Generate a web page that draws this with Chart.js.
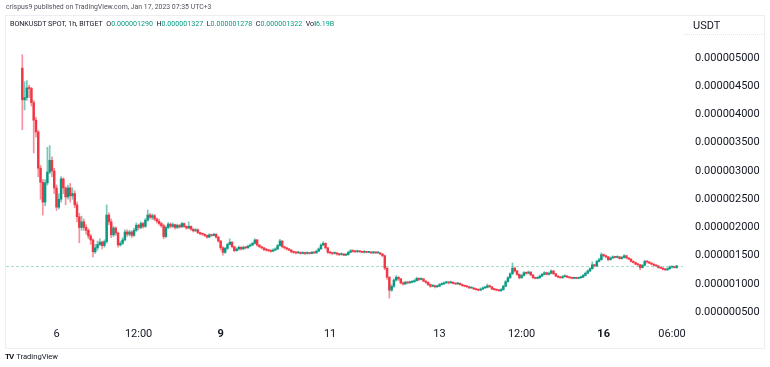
<!DOCTYPE html>
<html>
<head>
<meta charset="utf-8">
<title>BONKUSDT 1h</title>
<script src="https://cdn.jsdelivr.net/npm/chart.js"></script>
<style>
  html, body { margin: 0; padding: 0; background: #fff; }
  #wrap { position: relative; width: 770px; height: 367px; font-family: Roboto, "Liberation Sans", sans-serif; color: #131722; }
  #frame { position: absolute; left: 5px; top: 15px; width: 760px; height: 334px; border: 1px solid #eceef2; box-sizing: border-box; }
  #cv { position: absolute; left: 0; top: 0; }
  .txt { position: absolute; white-space: nowrap; line-height: 1; }
  #pub { left: 6px; top: 4px; font-size: 6.9px; color: #50535e; }
  #sym { left: 10px; top: 20px; font-size: 7.1px; color: #131722; }
  #sym .v { color: #089981; }
  #unit { left: 693px; top: 20px; font-size: 11px; }
  #unitline { position: absolute; left: 684px; top: 34px; width: 80px; border-top: 1px dotted #e3e6ec; }
  #logo { left: 5px; top: 353px; font-size: 7.6px; color: #131722; }
  #logo b { font-size: 8px; letter-spacing: -1px; margin-right: 3px; }
</style>
</head>
<body>
<div id="wrap">
  <div id="frame"></div>
  <canvas id="cv" width="770" height="367"></canvas>
  <div class="txt" id="pub">crispus9 published on TradingView.com, Jan 17, 2023 07:35 UTC+3</div>
  <div class="txt" id="sym">BONKUSDT SPOT, 1h, BITGET&nbsp;&nbsp;O<span class="v">0.000001290</span>&nbsp;&nbsp;H<span class="v">0.000001327</span>&nbsp;&nbsp;L<span class="v">0.000001278</span>&nbsp;&nbsp;C<span class="v">0.000001322</span>&nbsp;&nbsp;Vol<span class="v">6.19B</span></div>
  <div class="txt" id="unit">USDT</div>
  <div id="unitline"></div>
  <div class="txt" id="logo"><b>TV</b>TradingView</div>
</div>
<script>
// precios en 1e-9 USDT, velas de 1h (la apertura de cada vela = cierre anterior)
const firstOpen = 4820;
const closes = [
  4260, 4300, 4470, 4460, 4210, 3900, 3690, 3050, 2800, 2450,
  2790, 2980, 3190, 3000, 2700, 2360, 2500, 2860, 2700, 2540,
  2700, 2560, 2600, 2400, 2190, 2000, 2100, 2000, 1950, 1850,
  1780, 1570, 1640, 1700, 1740, 1680, 1750, 2220, 2100, 1870,
  1990, 1900, 1690, 1720, 1780, 1920, 1880, 1920, 1860, 1950,
  2040, 2000, 2070, 2020, 2130, 2220, 2180, 2210, 2150, 2110,
  2070, 2030, 1840, 2000, 2060, 2020, 2050, 2000, 2040, 2010,
  2070, 2020, 1990, 2020, 1970, 1940, 1960, 1910, 1890, 1880,
  1860, 1830, 1870, 1860, 1880, 1830, 1760, 1640, 1560, 1630,
  1700, 1740, 1660, 1590, 1620, 1650, 1620, 1650, 1640, 1670,
  1690, 1720, 1780, 1690, 1660, 1640, 1610, 1600, 1590, 1580,
  1600, 1620, 1680, 1760, 1660, 1640, 1620, 1600, 1570, 1560,
  1550, 1560, 1540, 1550, 1540, 1550, 1540, 1560, 1550, 1580,
  1620, 1690, 1720, 1640, 1560, 1550, 1540, 1550, 1530, 1520,
  1530, 1510, 1520, 1560, 1590, 1580, 1570, 1580, 1570,
  1560, 1570, 1560, 1560, 1550, 1560, 1550, 1550, 1530, 1500,
  1280, 1120, 890, 960, 1070, 1120, 1090, 1020, 1000, 1030,
  1020, 1030, 1040, 1060, 1100, 1080, 1090, 1050, 1030, 990,
  960, 970, 950, 960, 990, 1000, 1020, 1030, 1020, 1030,
  1010, 1000, 1010, 990, 970, 960, 950, 930, 930, 910,
  900, 890, 910, 930, 940, 970, 950, 910, 900, 890,
  880, 900, 960, 1040, 1110, 1180, 1280, 1230, 1170, 1110,
  1150, 1200, 1190, 1210, 1160, 1110, 1100, 1110, 1140, 1170,
  1200, 1170, 1190, 1230, 1180, 1140, 1120, 1110, 1130, 1140,
  1120, 1110, 1100, 1110, 1100, 1110, 1120, 1150, 1190, 1230,
  1270, 1340, 1320, 1400, 1430, 1520, 1500, 1480, 1430, 1460,
  1480, 1470, 1480, 1450, 1470, 1500, 1460, 1440, 1400, 1380,
  1350, 1340, 1290, 1330, 1400, 1390, 1370, 1350, 1330, 1320,
  1290, 1280, 1260, 1250, 1270, 1300, 1300, 1290, 1322
];
const highs = [
  5060, 4580, 4600, 4520, 4480, 4250, 3950, 3720, 3100, 2850,
  2850, 3420, 3450, 3250, 3050, 2750, 2600, 2900, 2880, 2720,
  2750, 2780, 2700, 2650, 2450, 2250, 2200, 2150, 2050, 1980,
  1880, 1800, 1700, 1760, 1800, 1760, 1780, 2400, 2260, 2150,
  2020, 2010, 1920, 1760, 1820, 1960, 1960, 1950, 1940, 1990,
  2080, 2060, 2100, 2090, 2160, 2310, 2250, 2240, 2230, 2170,
  2150, 2090, 2060, 2030, 2090, 2080, 2080, 2060, 2060, 2050,
  2090, 2080, 2030, 2100, 2030, 1980, 1980, 1970, 1920, 1900,
  1890, 1870, 1890, 1880, 1900, 1890, 1840, 1770, 1660, 1650,
  1720, 1800, 1750, 1670, 1640, 1670, 1660, 1670, 1660, 1690,
  1710, 1740, 1800, 1790, 1700, 1670, 1650, 1630, 1610, 1600,
  1620, 1640, 1700, 1790, 1770, 1670, 1650, 1630, 1610, 1580,
  1570, 1580, 1570, 1570, 1560, 1570, 1560, 1580, 1570, 1600,
  1640, 1710, 1750, 1730, 1650, 1570, 1560, 1570, 1560, 1540,
  1550, 1540, 1540, 1580, 1610, 1600, 1590, 1600, 1590,
  1580, 1590, 1580, 1580, 1570, 1580, 1570, 1570, 1560, 1540,
  1510, 1290, 1130, 990, 1090, 1150, 1130, 1100, 1040, 1050,
  1040, 1050, 1060, 1080, 1120, 1110, 1110, 1100, 1060, 1040,
  1000, 990, 980, 980, 1010, 1020, 1040, 1050, 1040, 1050,
  1040, 1020, 1030, 1020, 1000, 980, 970, 960, 940, 940,
  920, 910, 930, 950, 960, 1000, 980, 960, 920, 910,
  900, 920, 980, 1060, 1130, 1200, 1370, 1300, 1240, 1180,
  1170, 1220, 1210, 1230, 1220, 1170, 1120, 1130, 1160, 1190,
  1220, 1210, 1210, 1250, 1240, 1190, 1150, 1130, 1150, 1160,
  1150, 1130, 1120, 1120, 1120, 1120, 1140, 1170, 1210, 1250,
  1290, 1390, 1350, 1420, 1460, 1550, 1530, 1510, 1490, 1480,
  1500, 1490, 1500, 1490, 1490, 1520, 1510, 1470, 1450, 1410,
  1390, 1360, 1350, 1350, 1420, 1410, 1400, 1380, 1360, 1340,
  1330, 1300, 1290, 1270, 1290, 1320, 1310, 1310, 1327
];
const lows = [
  3730, 4080, 4250, 4300, 4150, 3320, 3600, 2900, 2500, 2220,
  2380, 2750, 2950, 2900, 2600, 2300, 2330, 2450, 2600, 2400,
  2500, 2450, 2500, 2350, 2100, 1730, 1950, 1950, 1880, 1800,
  1700, 1480, 1540, 1600, 1680, 1620, 1650, 1720, 2050, 1820,
  1840, 1860, 1650, 1670, 1700, 1760, 1840, 1850, 1820, 1840,
  1930, 1960, 1980, 1990, 2000, 2110, 2150, 2140, 2120, 2080,
  2040, 2000, 1800, 1820, 1980, 1990, 2000, 1970, 1980, 1990,
  2000, 2000, 1970, 1980, 1950, 1920, 1930, 1890, 1870, 1860,
  1840, 1810, 1820, 1840, 1850, 1810, 1740, 1600, 1510, 1540,
  1610, 1690, 1640, 1570, 1580, 1600, 1600, 1610, 1620, 1630,
  1660, 1680, 1710, 1670, 1640, 1620, 1590, 1580, 1570, 1560,
  1570, 1590, 1610, 1670, 1640, 1620, 1600, 1590, 1550, 1540,
  1530, 1540, 1530, 1530, 1520, 1530, 1530, 1530, 1540, 1540,
  1570, 1610, 1680, 1620, 1540, 1530, 1520, 1530, 1510, 1500,
  1510, 1500, 1500, 1510, 1550, 1560, 1560, 1560, 1560,
  1550, 1550, 1550, 1550, 1540, 1540, 1540, 1540, 1520, 1480,
  1250, 1080, 750, 870, 940, 1050, 1060, 1000, 980, 990,
  1000, 1010, 1020, 1030, 1050, 1060, 1070, 1040, 1010, 970,
  940, 950, 930, 940, 950, 980, 990, 1010, 1000, 1010,
  1000, 990, 990, 980, 960, 950, 940, 920, 920, 900,
  890, 880, 880, 900, 920, 930, 940, 900, 890, 880,
  870, 870, 890, 950, 1030, 1100, 1170, 1210, 1150, 1090,
  1100, 1140, 1170, 1180, 1150, 1100, 1090, 1090, 1100, 1130,
  1160, 1160, 1160, 1180, 1170, 1130, 1110, 1100, 1100, 1120,
  1110, 1100, 1090, 1090, 1090, 1090, 1100, 1110, 1140, 1180,
  1220, 1260, 1300, 1310, 1390, 1420, 1480, 1460, 1410, 1420,
  1450, 1460, 1460, 1440, 1440, 1460, 1450, 1430, 1390, 1370,
  1340, 1320, 1250, 1280, 1320, 1370, 1360, 1340, 1320, 1310,
  1280, 1270, 1250, 1240, 1240, 1260, 1280, 1280, 1278
];

// eje de tiempo: indice de vela y texto
const tickIdx = [15, 51, 87, 135, 183, 219, 255, 285];
const tickText = ['6', '12:00', '9', '11', '13', '12:00', '16', '06:00'];
const tickBold = ['9', '16'];
const priceTicks = [500, 1000, 1500, 2000, 2500, 3000, 3500, 4000, 4500, 5000];

const UP = '#089981';
const DOWN = '#F23645';

const opens = [firstOpen].concat(closes.slice(0, -1));
const lastClose = closes[closes.length - 1];
const colores = closes.map((c, i) => c >= opens[i] ? UP : DOWN);
const coloresMecha = closes.map((c, i) => c >= opens[i] ? 'rgba(8,153,129,0.55)' : 'rgba(242,54,69,0.55)');

// linea de precio actual
const lineaPrecio = {
  id: 'lineaPrecio',
  afterDatasetsDraw(chart) {
    const ctx = chart.ctx;
    const y = Math.round(chart.scales.y.getPixelForValue(lastClose)) + 0.5;
    ctx.save();
    ctx.strokeStyle = 'rgba(8,153,129,0.35)';
    ctx.lineWidth = 1;
    ctx.setLineDash([3, 2]);
    ctx.beginPath();
    ctx.moveTo(6, y);
    ctx.lineTo(chart.chartArea.right, y);
    ctx.stroke();
    ctx.restore();
  }
};

new Chart(document.getElementById('cv').getContext('2d'), {
  type: 'bar',
  data: {
    datasets: [
      {
        label: 'cuerpo',
        data: closes.map((c, i) => ({ x: i, y: [opens[i], c] })),
        backgroundColor: colores,
        barThickness: 1.8,
        minBarLength: 1,
        grouped: false
      },
      {
        label: 'mecha',
        data: closes.map((c, i) => ({ x: i, y: [lows[i], highs[i]] })),
        backgroundColor: coloresMecha,
        barThickness: 1,
        grouped: false
      }
    ]
  },
  options: {
    responsive: false,
    animation: false,
    devicePixelRatio: 1,
    layout: { padding: { left: 6, right: 0, top: 38, bottom: 18 } },
    plugins: { legend: { display: false }, tooltip: { enabled: false } },
    scales: {
      x: {
        type: 'linear',
        offset: false,
        min: -7.15,
        max: 289.8,
        grid: { display: false, drawTicks: false, offset: false },
        border: { display: false },
        afterBuildTicks: (scale) => { scale.ticks = tickIdx.map(v => ({ value: v })); },
        afterFit: (scale) => { scale.height = 27; },
        ticks: {
          padding: 6,
          color: '#131722',
          maxRotation: 0,
          autoSkip: false,
          font: (ctx) => ({
            family: 'Roboto',
            size: 11,
            weight: (ctx.tick && tickBold.includes(tickText[tickIdx.indexOf(ctx.tick.value)])) ? 'bold' : 'normal'
          }),
          callback: (v) => tickText[tickIdx.indexOf(v)]
        }
      },
      y: {
        position: 'right',
        min: 327,
        max: 5354,
        grid: { display: false, drawTicks: false },
        border: { display: false },
        afterBuildTicks: (scale) => { scale.ticks = priceTicks.map(v => ({ value: v })); },
        afterFit: (scale) => { scale.width = 87; },
        ticks: {
          padding: 12,
          color: '#131722',
          font: { family: 'Roboto', size: 11 },
          callback: (v) => (v / 1e9).toFixed(9)
        }
      }
    }
  },
  plugins: [lineaPrecio]
});
</script>
</body>
</html>
